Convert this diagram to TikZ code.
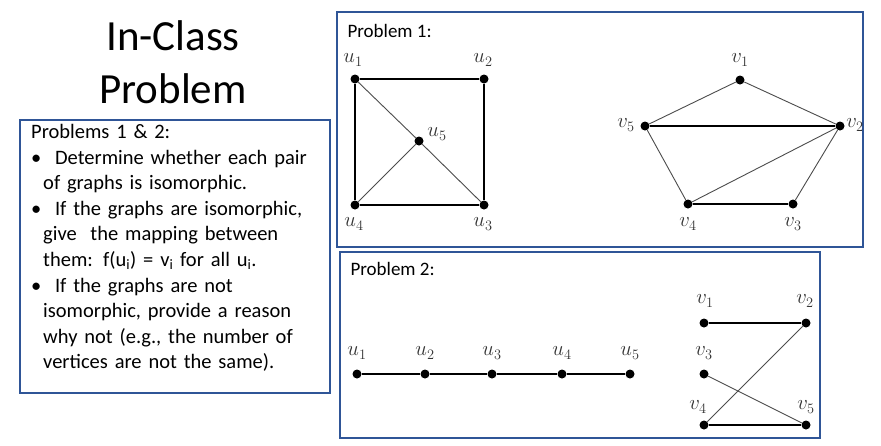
\documentclass[tikz,border=0pt]{standalone}
\usepackage{fontspec}
\setmainfont{Carlito}
\definecolor{bx}{RGB}{47,85,151}
\begin{document}
\begin{tikzpicture}[x=1pt,y=-1pt,
  box/.style={draw=bx, line width=1.3pt},
  vtx/.style={circle,fill=black,inner sep=0pt,minimum size=9pt},
  ed/.style={line width=1.1pt},
  ged/.style={line width=0.9pt,draw=black!70},
  lab/.style={font=\fontsize{20}{20}\selectfont, text=black!80}]
\useasboundingbox (0,0) rectangle (881,445);
\fill[white] (0,0) rectangle (881,445);
\node[font=\fontsize{43}{53}\selectfont, align=center] (title) at (173,62) {In-Class\\Problem};
\draw[box] (20,120) rectangle (330,393);
\node[anchor=north west, align=left, text width=305pt, inner sep=0pt, font=\fontsize{20.5}{25.6}\selectfont] (txt) at (31,124) {Problems 1 \& 2:\\
\textbullet\ \ Determine whether each pair\\
\hspace*{12pt}of graphs is isomorphic.\\
\textbullet\ \ If the graphs are isomorphic,\\
\hspace*{12pt}give\ \ the mapping between\\
\hspace*{12pt}them: f(u$_\mathrm{i}$) = v$_\mathrm{i}$ for all u$_\mathrm{i}$.\\
\textbullet\ \ If the graphs are not\\
\hspace*{12pt}isomorphic, provide a reason\\
\hspace*{12pt}why not (e.g., the number of\\
\hspace*{12pt}vertices are not the same).};
\draw[box] (337,12) rectangle (863,247);
\node[anchor=west,font=\fontsize{19}{20}\selectfont] (p1) at (344,31) {Problem 1:};
\draw[box] (340,252) rectangle (820,438);
\node[anchor=west,font=\fontsize{19}{20}\selectfont] (p2) at (347,269) {Problem 2:};
% graph 1
\node[vtx] (a1) at (355,79) {}; \node[vtx] (a2) at (484,79) {};
\node[vtx] (a3) at (484,205) {}; \node[vtx] (a4) at (355,205) {};
\node[vtx] (a5) at (419,141) {};
\draw[ed] (a1)--(a2)--(a3)--(a4)--(a1);
\draw[ged] (a1)--(a5)--(a3); \draw[ged] (a4)--(a5);
\node[lab] at (353,60) {$u_1$}; \node[lab] at (483,60) {$u_2$};
\node[lab] at (483,224) {$u_3$}; \node[lab] at (354,224) {$u_4$};
\node[lab] at (437,134) {$u_5$};
% graph 2
\node[vtx] (b1) at (740,80) {}; \node[vtx] (b2) at (840,126) {};
\node[vtx] (b3) at (793,204) {}; \node[vtx] (b4) at (688,204) {};
\node[vtx] (b5) at (645,126) {};
\draw[ged] (b1)--(b5); \draw[ged] (b1)--(b2);
\draw[ed] (b5)--(b2); \draw[ged] (b5)--(b4); \draw[ed] (b4)--(b3);
\draw[ged] (b3)--(b2); \draw[ged] (b4)--(b2);
\node[lab] at (740,60) {$v_1$}; \node[lab] at (855,125) {$v_2$};
\node[lab] at (793,224) {$v_3$}; \node[lab] at (688,224) {$v_4$};
\node[lab] at (626,125) {$v_5$};
% problem 2 path
\foreach \i/\x in {1/357,2/425,3/492,4/562,5/630}{
  \node[vtx] (c\i) at (\x,374) {};
  \node[lab] at (\x,353) {$u_\i$};}
\draw[ed] (c1)--(c2)--(c3)--(c4)--(c5);
\node[vtx] (d1) at (704,323) {}; \node[vtx] (d2) at (806,323) {};
\node[vtx] (d3) at (704,374) {}; \node[vtx] (d4) at (704,425) {};
\node[vtx] (d5) at (806,425) {};
\draw[ed] (d1)--(d2); \draw[ged] (d2)--(d4); \draw[ged] (d3)--(d5); \draw[ed] (d4)--(d5);
\node[lab] at (705,301) {$v_1$}; \node[lab] at (805,301) {$v_2$};
\node[lab] at (704,353) {$v_3$}; \node[lab] at (698,407) {$v_4$};
\node[lab] at (806,407) {$v_5$};
\end{tikzpicture}
\end{document}
